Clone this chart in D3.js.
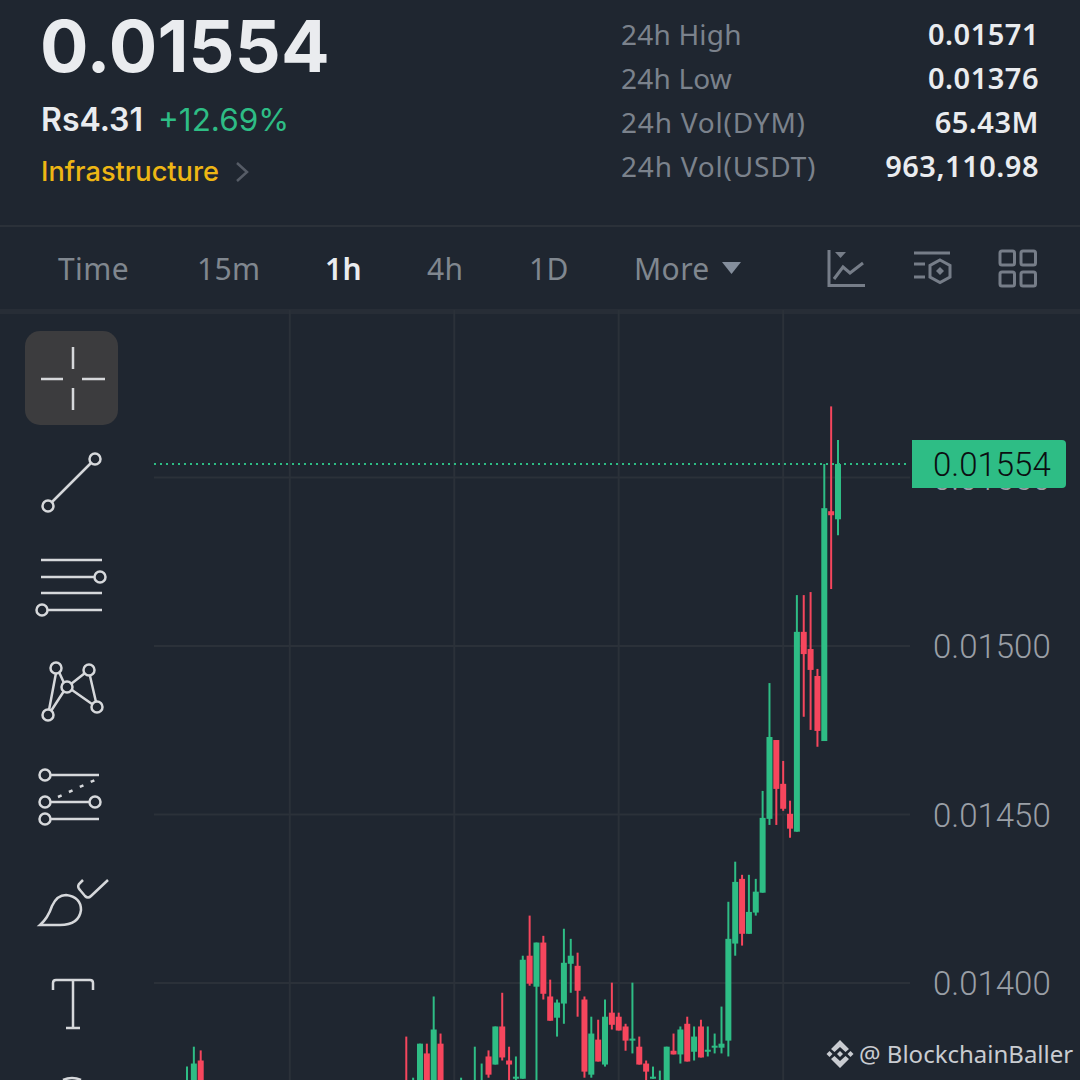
<!DOCTYPE html>
<html>
<head>
<meta charset="utf-8">
<script src="https://cdn.jsdelivr.net/npm/d3@7"></script>
<style>
  html, body { margin: 0; padding: 0; background: #1f2630; }
  svg { display: block; }
</style>
</head>
<body>
<div id="app"></div>
<script>
// candles, newest first. slots = hours back from the latest candle
const slots = [0,1,2,3,4,5,6,7,8,9,10,11,12,13,14,15,16,17,18,19,20,21,22,23,24,25,26,27,28,29,30,31,32,33,34,35,36,37,38,39,40,41,42,43,44,45,46,47,48,49,50,51,52,53,55,58,59,60,61,62,63,93,94,95]
const opens = [.015376,.015400,.014718,.014911,.014991,.015042,.014449,.014502,.014591,.014721,.014487,.014268,.014209,.014146,.014309,.014117,.013829,.013808,.013808,.013796,.013871,.013796,.013879,.013788,.013799,.013700,.013640,.013716,.013761,.013811,.013829,.013871,.013900,.013912,.013758,.013832,.013728,.013951,.014051,.014057,.013939,.013897,.013960,.014120,.013989,.014081,.013716,.013716,.013770,.013871,.013758,.013782,.013660,.013650,.013660,.013820,.013680,.013791,.013680,.013660,.013680,.013770,.013660,.013660]
const highs = [.015611,.015711,.015540,.014932,.015160,.015151,.015151,.014541,.014659,.014721,.014890,.014570,.014309,.014321,.014321,.014360,.014241,.013930,.013850,.013871,.013891,.013871,.013900,.013871,.013850,.013811,.013740,.013752,.013770,.013841,.014001,.013879,.013912,.014001,.013951,.013891,.013900,.013960,.014090,.014131,.014161,.013951,.014010,.014140,.014120,.014200,.014081,.013782,.013811,.013971,.013871,.013800,.013761,.013811,.013719,.013850,.013960,.013820,.013820,.013719,.013841,.013800,.013811,.013752]
const lows = [.015329,.015169,.014718,.014701,.014751,.014790,.014449,.014431,.014511,.014469,.014469,.014268,.014200,.014146,.014111,.014081,.013782,.013791,.013791,.013782,.013779,.013770,.013767,.013761,.013788,.013700,.013620,.013716,.013680,.013758,.013791,.013799,.013859,.013862,.013752,.013767,.013719,.013719,.013900,.013971,.013879,.013841,.013888,.013951,.013680,.013992,.013716,.013680,.013670,.013770,.013758,.013719,.013640,.013630,.013640,.013660,.013660,.013660,.013660,.013650,.013640,.013630,.013640,.013640]
const closes = [.015540,.015388,.015409,.014748,.014929,.014976,.015042,.014458,.014517,.014576,.014730,.014490,.014271,.014211,.014146,.014300,.014131,.013820,.013814,.013802,.013779,.013841,.013767,.013862,.013788,.013811,.013690,.013722,.013737,.013758,.013835,.013829,.013859,.013876,.013900,.013767,.013850,.013737,.013977,.014081,.014060,.013942,.013888,.013968,.014120,.013998,.014069,.013722,.013758,.013779,.013871,.013728,.013690,.013680,.013680,.013680,.013862,.013680,.013820,.013680,.013660,.013650,.013761,.013680]

const lastPrice = 0.01554
const priceTicks = [0.014, 0.0145, 0.015, 0.0155]
const timeTicks = [8, 32, 56, 80]
const stats = [
  ['24h High', '0.01571'],
  ['24h Low', '0.01376'],
  ['24h Vol(DYM)', '65.43M'],
  ['24h Vol(USDT)', '963,110.98']
]
const tabs = [
  ['Time', 58],
  ['15m', 197],
  ['1h', 325],
  ['4h', 427],
  ['1D', 529],
  ['More', 634]
]

const green = '#2ebd85'
const red = '#f6465d'
const grid = '#2b3139'
const icon = '#d6d8db'
const muted = '#848e9c'
const sans = '"Noto Sans", sans-serif'

const svg = d3.select('#app').append('svg')
  .attr('width', 1080)
  .attr('height', 1080)
  .attr('viewBox', [0, 0, 1080, 1080])
  .style('background', '#1f2630')

// scales
const x = d3.scaleLinear().domain([0, 95]).range([838, 187])
const y = d3.scaleLinear().domain([0.014, 0.015]).range([983, 646])

// ---- header ----
const head = svg.append('g')
head.append('text').attr('x', 40).attr('y', 72).text('0.01554')
  .attr('font-family', 'Inter').attr('font-weight', 700).attr('font-size', 72).attr('letter-spacing', 0.15).attr('fill', '#eaecef')
head.append('text').attr('x', 41).attr('y', 131).text('Rs4.31')
  .attr('font-family', 'Inter').attr('font-weight', 600).attr('font-size', 32).attr('fill', '#eaecef')
head.append('text').attr('x', 158).attr('y', 131).text('+12.69%')
  .attr('font-family', 'Inter').attr('font-size', 31.5).attr('fill', green)
head.append('text').attr('x', 41).attr('y', 181).text('Infrastructure')
  .attr('font-family', 'Inter').attr('font-weight', 500).attr('font-size', 27.2).attr('fill', '#eeb614')
head.append('path').attr('d', 'M237,163 L247,172 L237,181')
  .attr('fill', 'none').attr('stroke', '#565c66').attr('stroke-width', 2.5)

stats.forEach((s, i) => {
  const base = 45 + i * 44
  head.append('text').attr('x', 621).attr('y', base).text(s[0])
    .attr('font-family', sans).attr('font-size', 28).attr('fill', '#7b828c')
    .attr('letter-spacing', s[0].includes('Vol') ? 0.8 : 0.2)
  head.append('text').attr('x', 1039).attr('y', base).text(s[1])
    .attr('text-anchor', 'end')
    .attr('font-family', sans).attr('font-weight', 600).attr('font-size', 29).attr('letter-spacing', 0.5).attr('fill', '#eaecef')
})

svg.append('rect').attr('x', 0).attr('y', 225).attr('width', 1080).attr('height', 2).attr('fill', grid)
svg.append('rect').attr('x', 0).attr('y', 309).attr('width', 1080).attr('height', 5).attr('fill', '#272d36')

// ---- tabs ----
svg.append('g').selectAll('text').data(tabs).join('text')
  .attr('x', (d) => d[1])
  .attr('y', 280)
  .text((d) => d[0])
  .attr('font-family', sans)
  .attr('font-size', 30)
  .attr('letter-spacing', 0.4)
  .attr('font-weight', (d) => (d[0] === '1h' ? 600 : 400))
  .attr('fill', (d) => (d[0] === '1h' ? '#eaecef' : '#80878f'))
svg.append('path').attr('d', 'M722,262 L741,262 L731.5,274 Z').attr('fill', muted)

// top right icons
const top_icons = svg.append('g').attr('fill', 'none').attr('stroke', '#767d88').attr('stroke-width', 3)
top_icons.append('path').attr('d', 'M829,250 V285.5 H865')
top_icons.append('path').attr('d', 'M834,279 L843,267 L850,273 L863,263')
top_icons.append('path').attr('d', 'M835,252 H846 L840.5,258 Z').attr('fill', '#767d88').attr('stroke', 'none')
top_icons.append('path').attr('d', 'M914,253 H950 M914,264 H925 M914,277 H925')
top_icons.append('path').attr('d', 'M940,260 L950,265.5 V277 L940,282.5 L930,277 V265.5 Z')
top_icons.append('path').attr('d', 'M940,267 L944,271 L940,275 L936,271 Z').attr('fill', '#767d88').attr('stroke', 'none')
;[[1000, 251], [1021, 251], [1000, 272], [1021, 272]].forEach((p) => {
  top_icons.append('rect').attr('x', p[0]).attr('y', p[1]).attr('width', 14.5).attr('height', 14).attr('rx', 2)
})

// ---- grid ----
const gridG = svg.append('g')
gridG.selectAll('line.v').data(timeTicks).join('line')
  .attr('class', 'v')
  .attr('x1', (d) => x(d)).attr('x2', (d) => x(d))
  .attr('y1', 310).attr('y2', 1080)
  .attr('stroke', grid).attr('stroke-width', 2)
gridG.selectAll('line.h').data(priceTicks).join('line')
  .attr('class', 'h')
  .attr('x1', 154).attr('x2', 910)
  .attr('y1', (d) => y(d)).attr('y2', (d) => y(d))
  .attr('stroke', grid).attr('stroke-width', 2)

// price axis on the right
const axis = svg.append('g')
  .attr('transform', 'translate(933,1)')
  .call(d3.axisRight(y).tickValues(priceTicks).tickFormat(d3.format('.5f')).tickSize(0).tickPadding(0))
axis.select('.domain').remove()
axis.selectAll('text')
  .attr('font-family', 'Roboto')
  .attr('font-weight', 300)
  .attr('font-size', 33)
  .attr('fill', '#9a9fa6')

// ---- candles ----
const candles = slots.map((s, i) => ({ slot: s, open: opens[i], high: highs[i], low: lows[i], close: closes[i] }))
const colour = (d) => (d.close >= d.open ? green : red)
const candle = svg.append('g').selectAll('g').data(candles).join('g')
candle.append('line')
  .attr('x1', (d) => x(d.slot)).attr('x2', (d) => x(d.slot))
  .attr('y1', (d) => y(d.high)).attr('y2', (d) => y(d.low))
  .attr('stroke', colour).attr('stroke-width', 2)
candle.append('rect')
  .attr('x', (d) => x(d.slot) - 3)
  .attr('width', 6)
  .attr('y', (d) => y(Math.max(d.open, d.close)))
  .attr('height', (d) => Math.max(2, Math.abs(y(d.open) - y(d.close))))
  .attr('fill', colour)

// ---- last price line and tag ----
svg.append('line')
  .attr('x1', 154).attr('x2', 907)
  .attr('y1', y(lastPrice)).attr('y2', y(lastPrice))
  .attr('stroke', green).attr('stroke-width', 2).attr('stroke-dasharray', '2 4')
svg.append('path')
  .attr('d', 'M912,440 H1062 Q1066,440 1066,444 V484 Q1066,488 1062,488 H912 Z')
  .attr('fill', green)
svg.append('text').attr('x', 933).attr('y', y(lastPrice) + 12).text(d3.format('.5f')(lastPrice))
  .attr('font-family', 'Roboto').attr('font-weight', 300).attr('font-size', 33).attr('fill', '#0b0e11')

// ---- left toolbar ----
svg.append('rect').attr('x', 25).attr('y', 331).attr('width', 93).attr('height', 94).attr('rx', 15).attr('fill', '#3c3c3e')
const tools = svg.append('g').attr('fill', 'none').attr('stroke', icon).attr('stroke-width', 2.5)
const dot = (cx, cy) => tools.append('circle').attr('cx', cx).attr('cy', cy).attr('r', 5.5)
tools.append('path').attr('d', 'M73,347 V369 M73,388 V410 M41,379 H63 M82,379 H105')
// trend line
tools.append('path').attr('d', 'M52,502 L91,463')
dot(48, 506); dot(95, 459)
// parallel lines
tools.append('path').attr('d', 'M41,560 H102 M41,577 H94 M41,593 H102 M48,610 H102')
dot(100, 577); dot(42, 610)
// pattern
tools.append('path').attr('d', 'M56,673 L49,710 M59,672 L64,683 M71,684 L85,673 M90,676 L96,702 M51,711 L64,691 M72,690 L92,704')
dot(56, 668); dot(89, 670); dot(67, 687); dot(48, 715); dot(97, 707)
// fib
tools.append('path').attr('d', 'M51,775 H99 M51,802 H89 M51,819 H99')
tools.append('path').attr('d', 'M58,797 L95,780').attr('stroke-dasharray', '4 8')
dot(45, 775); dot(45, 802); dot(95, 802); dot(45, 819)
// brush
tools.append('path').attr('d', 'M83,880 L79,884 Q77,887 80,890 L85,896 Q88,899 91,896 L108,880')
tools.append('path').attr('d', 'M40,925 Q48,918 52,906 Q57,895 66,895 Q81,897 81,910 Q79,925 60,925 Z')
// text
tools.append('path').attr('d', 'M53,990 V983 Q53,980 56,980 H90 Q93,980 93,983 V990 M73,980 V1028 M66,1028 H80')
// next icon, cut off by the bottom edge
tools.append('path').attr('d', 'M63,1080 Q72,1076 81,1080')

// ---- watermark ----
const mark = svg.append('g').attr('fill', '#c9ccd1')
mark.append('path').attr('d', 'M840,1040 L849,1049 L845.5,1052 L840,1047 L834.5,1052 L831,1049 Z')
mark.append('path').attr('d', 'M840,1068 L849,1059 L845.5,1056 L840,1061 L834.5,1056 L831,1059 Z')
mark.append('path').attr('d', 'M840,1051 L843,1054 L840,1057 L837,1054 Z')
mark.append('path').attr('d', 'M829.5,1051 L832.5,1054 L829.5,1057 L826.5,1054 Z')
mark.append('path').attr('d', 'M850.5,1051 L853.5,1054 L850.5,1057 L847.5,1054 Z')
svg.append('text').attr('x', 859).attr('y', 1063).text('@ BlockchainBaller')
  .attr('font-family', sans).attr('font-size', 24).attr('fill', '#c9ccd1')
</script>
</body>
</html>
